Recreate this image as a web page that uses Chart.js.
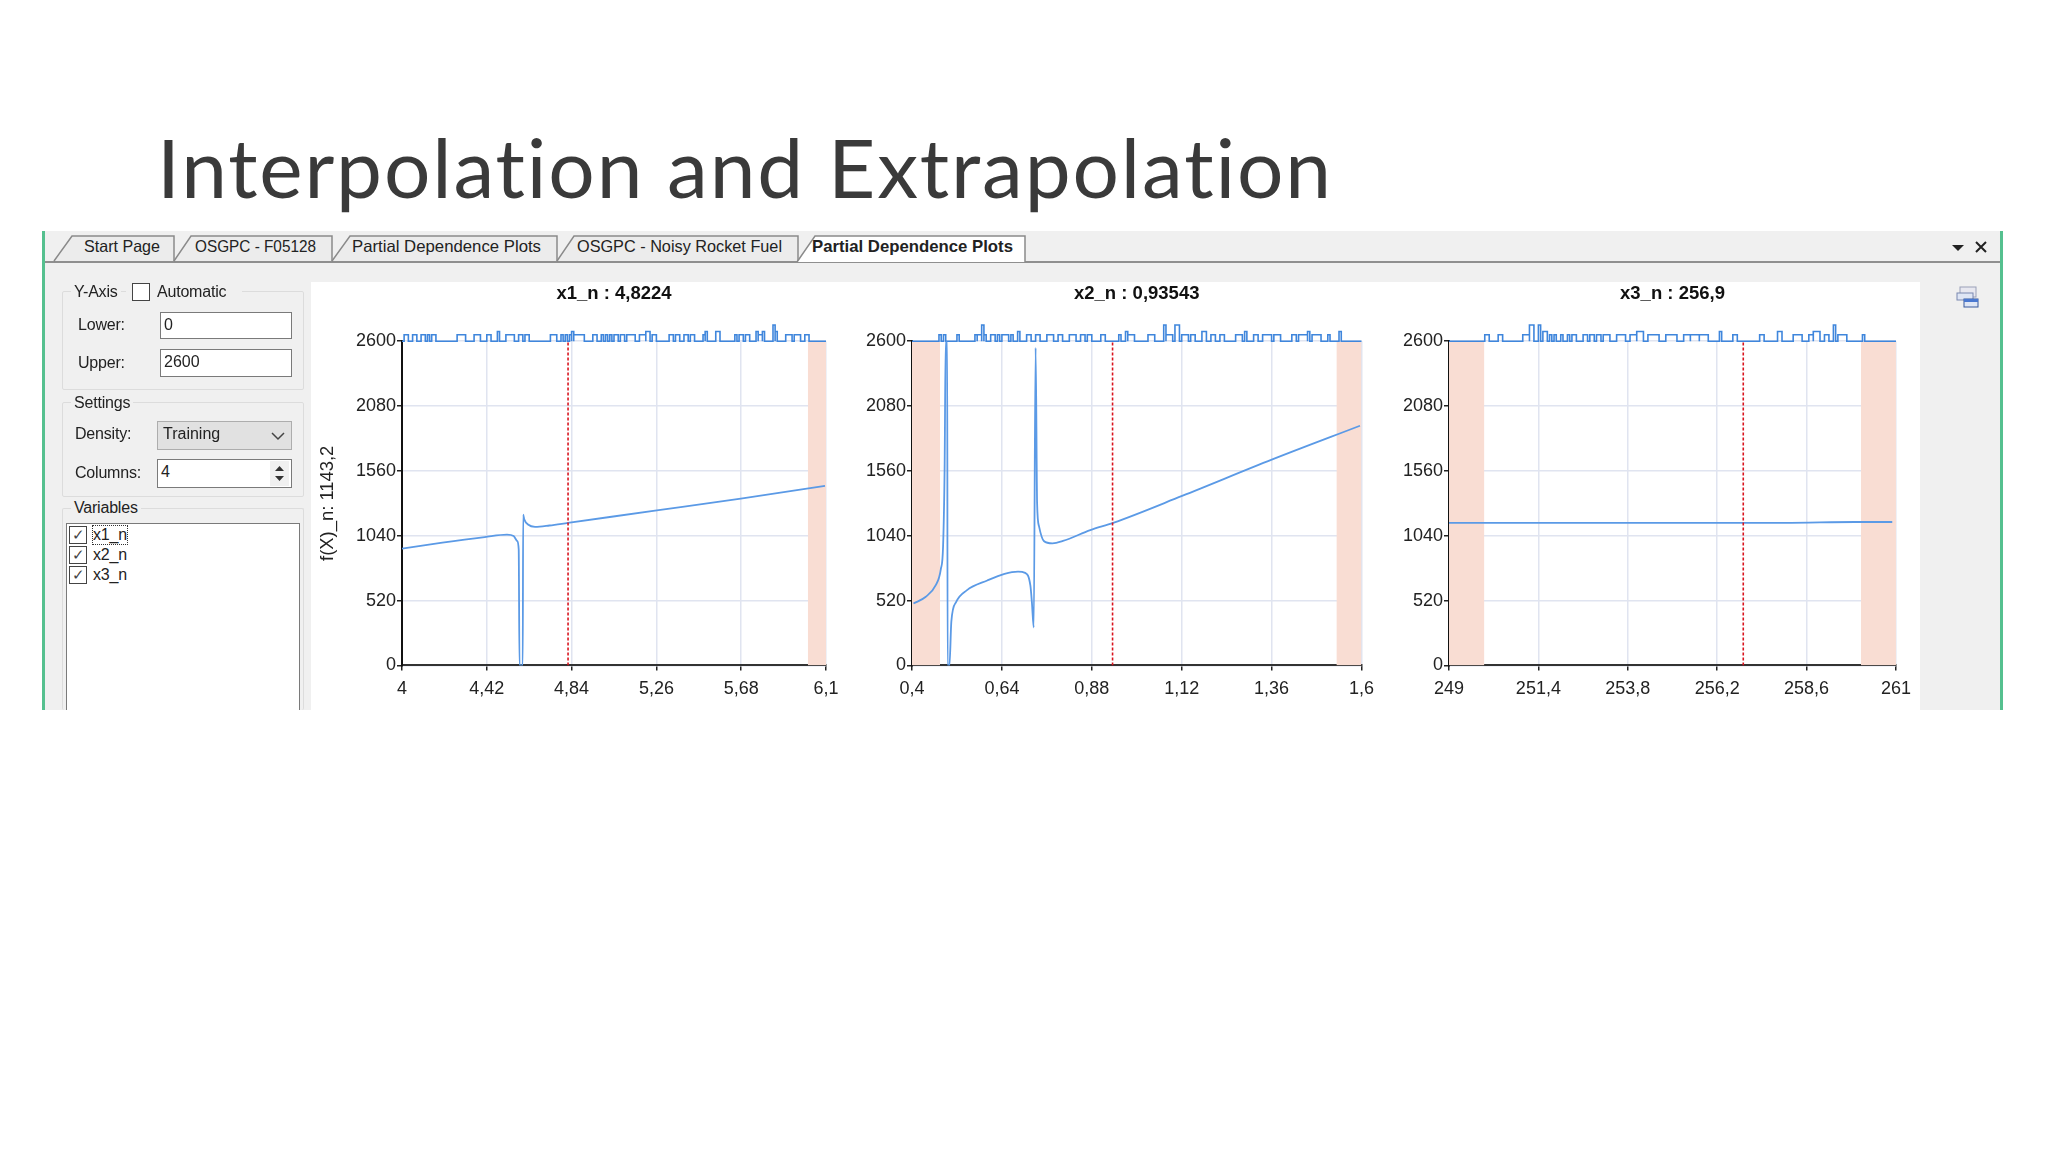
<!DOCTYPE html>
<html lang="en">
<head>
<meta charset="UTF-8">
<title>Interpolation and Extrapolation</title>
<script src="https://cdn.jsdelivr.net/npm/chart.js"></script>
<style>
    body { margin: 0; background: #fff; width: 2048px; height: 1152px; overflow: hidden; position: relative; font-family: "Liberation Sans", sans-serif; color: #222; }
    #slideTitle { position: absolute; left: 157px; top: 117px; font: 400 82px Lato, sans-serif; color: #3a3a3a; white-space: nowrap; letter-spacing: 1.85px; }
    #win { position: absolute; left: 42px; top: 231px; width: 1961px; height: 479px; background: #f0f0f0; border-left: 3px solid #55c08f; border-right: 3px solid #55c08f; box-sizing: border-box; }
    #tabs, #icon { position: absolute; left: 0; top: 0; }
    #plots { position: absolute; left: 311px; top: 282px; width: 1609px; height: 428px; background: #fff; }
    canvas { position: absolute; }
    .t { position: absolute; font-size: 16px; line-height: 18px; white-space: nowrap; letter-spacing: -0.2px; }
    .grp { position: absolute; border: 1px solid #dcdcdc; box-sizing: border-box; border-radius: 2px; }
    .lg { background: #f0f0f0; padding: 0 3px; }
    .inp { position: absolute; background: #fff; border: 1px solid #7a7a7a; box-sizing: border-box; font-size: 16px; line-height: 24px; padding-left: 3px; }
    .cb { position: absolute; width: 18px; height: 18px; border: 1px solid #444; background: #fff; box-sizing: border-box; font-size: 15px; line-height: 16px; text-align: center; color: #444; }
</style>
</head>
<body>
<div id="slideTitle">Interpolation and Extrapolation</div>
<div id="win"></div>

<svg id="tabs" width="2048" height="270">
    <g stroke="#8a8a8a" fill="#ececec" stroke-width="1.5">
        <path d="M54 261 L72 236 L174 236 L174 261"/>
        <path d="M174 261 L191 236 L332 236 L332 261"/>
        <path d="M332 261 L350 236 L557 236 L557 261"/>
        <path d="M557 261 L574 236 L798 236 L798 261"/>
    </g>
    <line x1="45" y1="262" x2="2000" y2="262" stroke="#6f6f6f" stroke-width="1.5"/>
    <path d="M797 262 L815 236 L1025 236 L1025 262" fill="#fff" stroke="#8a8a8a" stroke-width="1.5"/>
    <g font-family="Liberation Sans" font-size="16.5" fill="#222">
        <text x="84" y="252" textLength="76" lengthAdjust="spacingAndGlyphs">Start Page</text>
        <text x="195" y="252" textLength="121" lengthAdjust="spacingAndGlyphs">OSGPC - F05128</text>
        <text x="352" y="252" textLength="189" lengthAdjust="spacingAndGlyphs">Partial Dependence Plots</text>
        <text x="577" y="252" textLength="205" lengthAdjust="spacingAndGlyphs">OSGPC - Noisy Rocket Fuel</text>
        <text x="812" y="252" textLength="201" lengthAdjust="spacingAndGlyphs" font-weight="bold">Partial Dependence Plots</text>
    </g>
    <path d="M1952 245 L1964 245 L1958 251 Z" fill="#222"/>
    <path d="M1976 242 L1986 252 M1986 242 L1976 252" stroke="#222" stroke-width="2"/>
</svg>

<div id="plots"></div>

<svg id="icon" width="2048" height="320">
    <rect x="1960" y="287" width="16" height="10" fill="#e8e8f0" stroke="#9aa0b8"/>
    <rect x="1957" y="293" width="16" height="7" fill="#dfe6f5" stroke="#7a88b0"/>
    <rect x="1964" y="299" width="14" height="8" fill="#dfe6f5" stroke="#37599c"/>
    <rect x="1964" y="299" width="14" height="3" fill="#4a78d0"/>
</svg>

<div class="grp" style="left:62px;top:291px;width:242px;height:99px"></div>
<div class="t lg" style="left:71px;top:283px">Y-Axis</div>
<div class="lg" style="position:absolute;left:126px;top:283px;width:110px;height:18px"></div>
<div class="cb" style="left:132px;top:283px"></div>
<div class="t" style="left:157px;top:283px">Automatic</div>
<div class="t" style="left:78px;top:316px">Lower:</div>
<div class="inp" style="left:160px;top:312px;width:132px;height:27px">0</div>
<div class="t" style="left:78px;top:354px">Upper:</div>
<div class="inp" style="left:160px;top:349px;width:132px;height:28px">2600</div>

<div class="grp" style="left:62px;top:402px;width:242px;height:95px"></div>
<div class="t lg" style="left:71px;top:394px">Settings</div>
<div class="t" style="left:75px;top:425px">Density:</div>
<div class="inp" style="left:157px;top:421px;width:135px;height:29px;background:#e1e1e1;border-color:#adadad;padding-left:5px">Training</div>
<svg style="position:absolute;left:270px;top:430px" width="16" height="12"><path d="M2 3 L8 9 L14 3" fill="none" stroke="#444" stroke-width="1.5"/></svg>
<div class="t" style="left:75px;top:464px">Columns:</div>
<div class="inp" style="left:157px;top:459px;width:135px;height:29px">4</div>
<div style="position:absolute;left:270px;top:461px;width:19px;height:25px;background:#f0f0f0"></div>
<svg style="position:absolute;left:270px;top:461px" width="19" height="25"><path d="M5 10 L14 10 L9.5 5 Z M5 15 L14 15 L9.5 20 Z" fill="#333"/></svg>

<div class="grp" style="left:62px;top:508px;width:242px;height:202px;border-bottom:0"></div>
<div class="t lg" style="left:71px;top:499px">Variables</div>
<div style="position:absolute;left:66px;top:523px;width:234px;height:187px;background:#fff;border:1px solid #7a7a7a;border-bottom:0;box-sizing:border-box"></div>
<div class="cb" style="left:69px;top:526px">✓</div>
<div class="cb" style="left:69px;top:546px">✓</div>
<div class="cb" style="left:69px;top:566px">✓</div>
<div class="t" style="left:93px;top:526px;outline:1px dotted #333">x1_n</div>
<div class="t" style="left:93px;top:546px">x2_n</div>
<div class="t" style="left:93px;top:566px">x3_n</div>

<script>
    // y axis, the same on all three plots
    const yTicks = [0, 520, 1040, 1560, 2080, 2600];
    const yLabel = "f(X)_n: 1143,2";
    const densityBinCount = 200;

    // x1_n
    const title1 = "x1_n : 4,8224";
    const xTicks1 = [4, 4.42, 4.84, 5.26, 5.68, 6.1];
    const current1 = 4.8224;
    const bands1 = [[6.01, 6.1]];
    const curveX1 = [4, 4.2, 4.41, 4.52, 4.553, 4.57, 4.578, 4.582, 4.598, 4.6, 4.606, 4.624, 4.659, 4.73, 4.822, 5.262, 5.678, 6.095];
    const curveY1 = [937, 985, 1029, 1048, 1037, 998, 932, 0, 0, 1209, 1169, 1130, 1111, 1122, 1143, 1243, 1338, 1439];
    // [first bin, end bin, height]
    const density1 = [[1,3,2],[5,7,2],[9,11,2],[12,13,2],[14,16,2],[26,30,2],[34,37,2],[40,42,2],[45,46,3],[49,53,2],[55,57,2],[58,60,2],
        [70,73,2],[75,76,2],[77,78,2],[79,80,2],[80,81,3],[81,86,2],[90,92,2],[94,95,2],[96,97,2],[98,99,2],[100,102,2],[103,105,2],[106,110,2],
        [112,115,2],[115,117,3],[118,120,2],[126,128,2],[129,131,2],[133,135,2],[136,138,2],[142,143,2],[143,144,3],[148,150,3],[157,158,2],
        [159,161,2],[162,164,2],[167,168,3],[168,170,2],[170,171,3],[175,176,5],[176,177,3],[181,184,2],[185,188,2],[190,192,2]];

    // x2_n
    const title2 = "x2_n : 0,93543";
    const xTicks2 = [0.4, 0.64, 0.88, 1.12, 1.36, 1.6];
    const current2 = 0.93543;
    const bands2 = [[0.4, 0.475], [1.533, 1.6]];
    const curveX2 = [0.404, 0.436, 0.463, 0.477, 0.483, 0.487, 0.49, 0.494, 0.495, 0.5, 0.505, 0.518, 0.546, 0.601, 0.647, 0.683, 0.702, 0.716, 0.72, 0.725, 0.73, 0.734, 0.739, 0.752, 0.775, 0.803, 0.876, 0.937, 1.121, 1.362, 1.596];
    const curveY2 = [496, 549, 641, 773, 958, 1565, 2600, 2600, 0, 0, 351, 509, 602, 681, 734, 752, 742, 641, 509, 303, 2547, 1301, 1117, 998, 979, 998, 1085, 1143, 1359, 1652, 1922];
    const density2 = [[12,13,2],[14,15,2],[20,21,2],[28,29,2],[29,31,2],[31,32,5],[32,33,2],[35,37,2],[38,39,2],[40,43,2],[44,45,2],[47,48,3],
        [51,53,2],[55,57,2],[60,63,2],[65,67,2],[70,73,2],[75,77,2],[78,80,2],[84,86,2],[92,93,2],[95,96,3],[96,99,2],[105,108,2],[112,113,5],
        [113,116,2],[117,119,5],[120,123,2],[124,126,2],[129,131,3],[133,135,2],[137,139,2],[144,147,2],[148,149,3],[152,154,2],[156,160,2],
        [161,164,2],[169,171,2],[172,176,2],[176,177,3],[178,182,2],[185,186,2],[190,191,3]];

    // x3_n
    const title3 = "x3_n : 256,9";
    const xTicks3 = [249, 251.4, 253.8, 256.2, 258.6, 261];
    const current3 = 256.9;
    const bands3 = [[249, 249.95], [260.06, 261]];
    const curveX3 = [249, 252, 255, 258, 259.9, 260.9];
    const curveY3 = [1143, 1143, 1143, 1143, 1150, 1150];
    const density3 = [[16,18,2],[22,24,2],[33,36,2],[36,38,5],[40,41,5],[42,44,3],[45,46,2],[47,48,2],[50,51,2],[53,54,2],[55,57,2],[60,62,2],
        [63,65,2],[66,68,2],[69,72,2],[75,79,2],[81,84,2],[84,87,3],[89,94,2],[97,102,2],[105,108,2],[108,112,2],[112,116,2],[121,122,3],
        [127,129,2],[139,141,2],[147,149,3],[154,158,2],[161,163,2],[163,166,3],[168,170,2],[172,173,5],[174,178,2],[185,186,2]];

    const tickFont = { family: "'Liberation Sans'", size: 18 };
    const comma = v => String(v).replace(".", ",");

    function densityPoints(bumps, xMin, xMax) {
        let w = (xMax - xMin) / densityBinCount;
        let pts = [{ x: xMin, y: 2600 }];
        for (const [a, b, h] of bumps) {
            pts.push({ x: xMin + a * w, y: 2600 + h * 26 });
            pts.push({ x: xMin + b * w, y: 2600 });
        }
        pts.push({ x: xMax, y: 2600 });
        return pts;
    }

    function makePlot(box, title, xTicks, current, bands, curveX, curveY, density, withLabel) {
        let c = document.createElement("canvas");
        c.width = box.w;
        c.height = 428;
        c.style.left = (box.left - 311) + "px";
        c.style.top = "0px";
        document.getElementById("plots").appendChild(c);

        let xMin = xTicks[0], xMax = xTicks[xTicks.length - 1];
        let sets = bands.map(b => ({
            data: [{ x: b[0], y: 2600 }, { x: b[1], y: 2600 }],
            showLine: true, borderWidth: 0, pointRadius: 0,
            fill: "origin", backgroundColor: "#f9ddd3", order: 5
        }));
        sets.push({
            data: curveX.map((x, i) => ({ x: x, y: curveY[i] })),
            showLine: true, pointRadius: 0, borderColor: "#5b9ae6", borderWidth: 1.8,
            cubicInterpolationMode: "monotone", order: 2
        });
        sets.push({
            data: [{ x: current, y: 0 }, { x: current, y: 2600 }],
            showLine: true, pointRadius: 0, borderColor: "#d9141e", borderWidth: 1.6,
            borderDash: [3, 2], order: 1
        });
        sets.push({
            data: densityPoints(density, xMin, xMax),
            showLine: true, pointRadius: 0, borderColor: "#3f86dc", borderWidth: 1.6,
            stepped: true, clip: false, order: 3
        });

        new Chart(c, {
            type: "scatter",
            data: { datasets: sets },
            options: {
                responsive: false,
                animation: false,
                layout: { padding: { right: box.right, bottom: 2 } },
                plugins: {
                    legend: { display: false },
                    tooltip: { enabled: false },
                    title: {
                        display: true, text: title, fullSize: false, color: "#111",
                        font: { family: "'Liberation Sans'", size: 18.5, weight: "bold" },
                        padding: { top: 1, bottom: 36 }
                    }
                },
                scales: {
                    x: {
                        type: "linear", min: xMin, max: xMax,
                        afterBuildTicks: s => { s.ticks = xTicks.map(v => ({ value: v })); },
                        ticks: { callback: comma, font: tickFont, color: "#222", autoSkip: false, maxRotation: 0, padding: 8 },
                        grid: { color: "#e0e4f0", lineWidth: 1.5, tickColor: "#222", tickLength: 5 },
                        border: { color: "#333", width: 2 }
                    },
                    y: {
                        type: "linear", min: 0, max: 2600,
                        afterBuildTicks: s => { s.ticks = yTicks.map(v => ({ value: v })); },
                        afterFit: s => { s.width = box.axis; },
                        ticks: { callback: v => String(v), font: tickFont, color: "#222", padding: 1 },
                        grid: { color: "#e0e4f0", lineWidth: 1.5, tickColor: "#222", tickLength: 5 },
                        border: { color: "#111", width: 2 },
                        title: {
                            display: withLabel, text: yLabel, color: "#222",
                            font: { family: "'Liberation Sans'", size: 18.4 }, padding: { top: 0, bottom: 0 }
                        }
                    }
                }
            }
        });
    }

    makePlot({ left: 317, w: 533, axis: 85, right: 24 }, title1, xTicks1, current1, bands1, curveX1, curveY1, density1, true);
    makePlot({ left: 852, w: 530, axis: 60, right: 13 }, title2, xTicks2, current2, bands2, curveX2, curveY2, density2, false);
    makePlot({ left: 1389, w: 530, axis: 60, right: 15 }, title3, xTicks3, current3, bands3, curveX3, curveY3, density3, false);
</script>
</body>
</html>
